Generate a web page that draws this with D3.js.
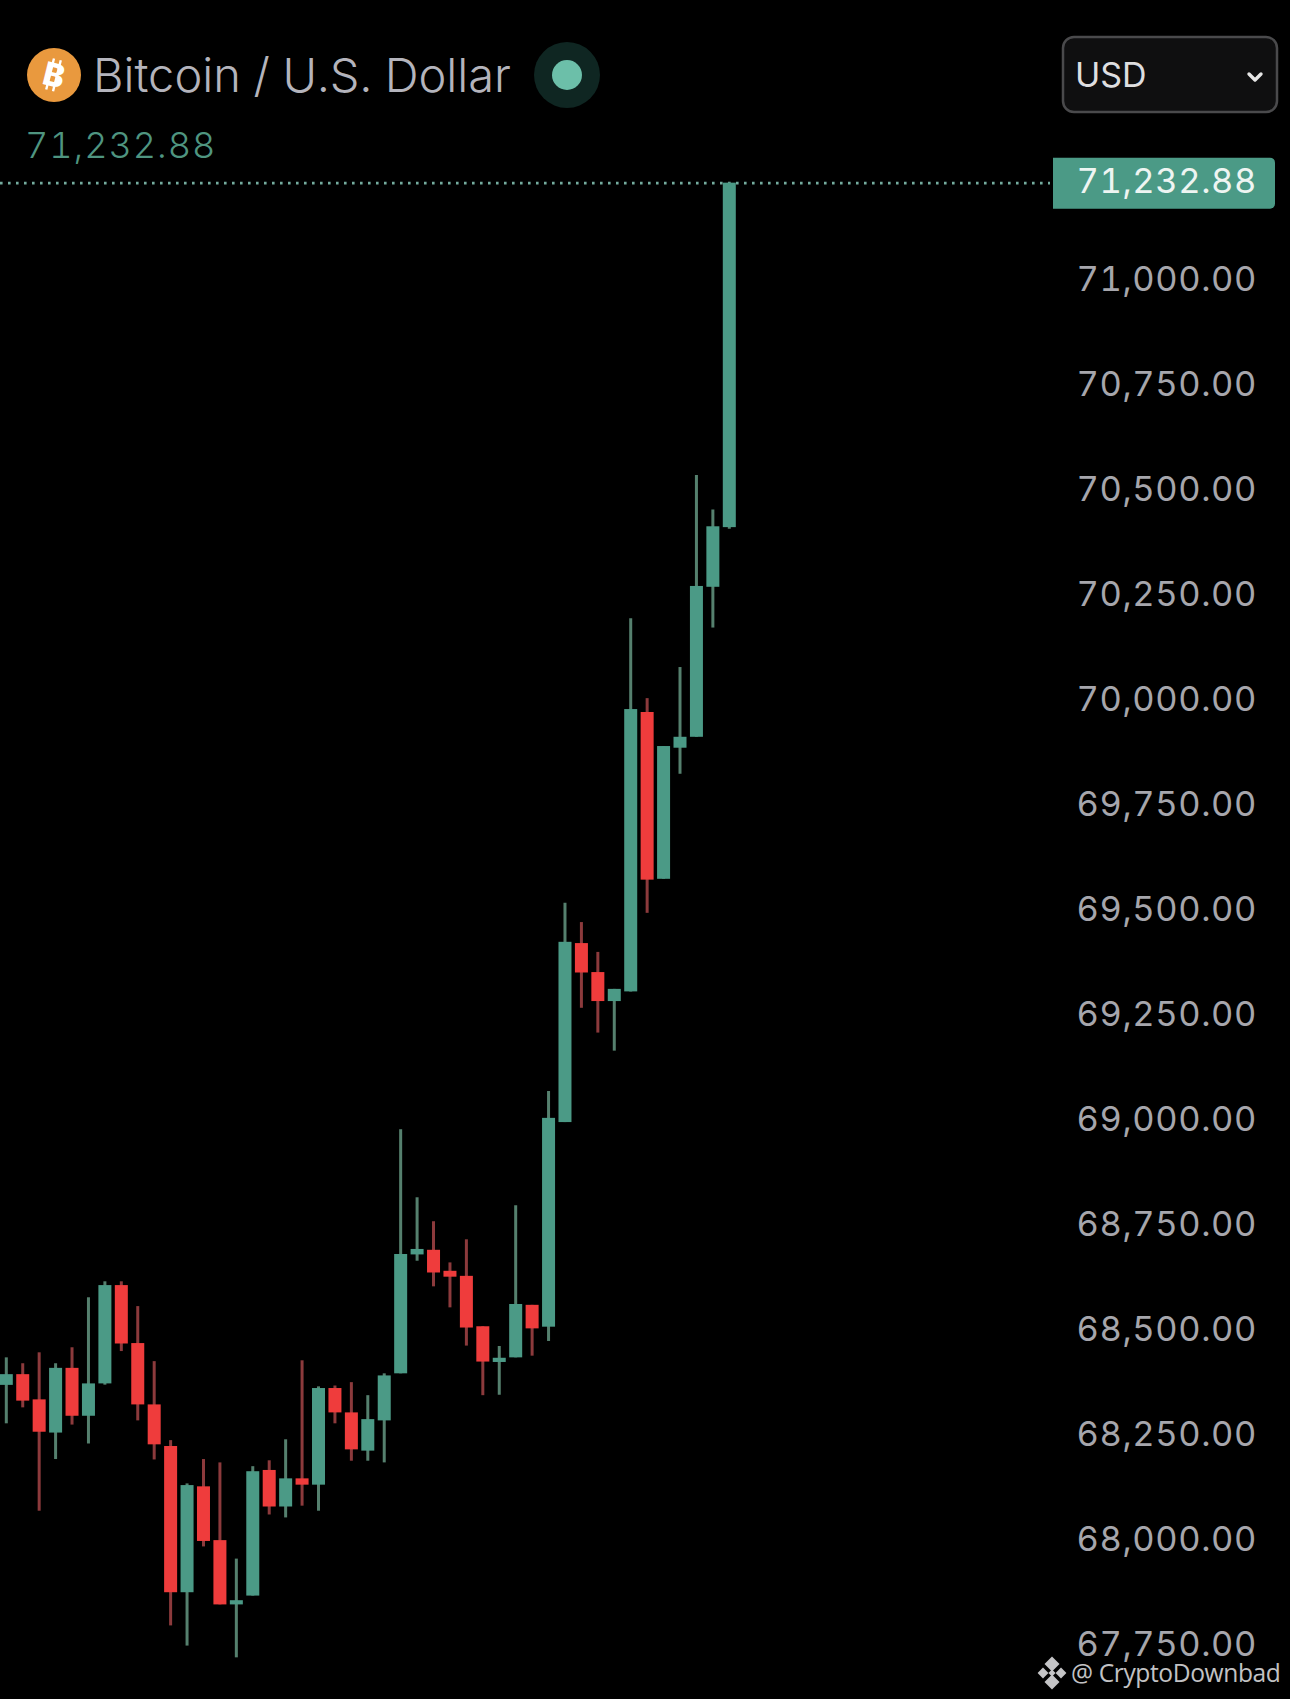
<!DOCTYPE html>
<html>
<head>
<meta charset="utf-8">
<script src="https://cdn.jsdelivr.net/npm/d3@7/dist/d3.min.js"></script>
<style>
html,body{margin:0;padding:0;background:#000;overflow:hidden}
svg{display:block}
text{font-family:Inter,Roboto,sans-serif;font-variant-numeric:tabular-nums}
</style>
</head>
<body>
<svg id="c" width="1290" height="1699"></svg>
<script>
const opens=[68371.5,68397,68337,68258,68412,68298,68375,68609,68471,68325,68226,67878,68130,68002,67849,67870,68169,68082,68149,68134,68364,68306,68215,68287,68399,68682,68693,68643,68631,68511,68426,68437,68562,68510,68997,69423,69354,69285,69308,69973,69576,69888,69914,70271,70413];
const highs=[68437,68423,68449,68423,68461,68580,68618,68618,68559,68428,68240,68137,68195,68187,67958,68178,68192,68242,68430,68368,68370,68378,68347,68399,68980,68818,68761,68663,68718,68511,68464,68799,68562,69071,69519,69473,69402,69314,70196,70006,69892,70080,70537,70455,71232.88];
const lows=[68280,68318,68072,68195,68277,68232,68372,68452,68287,68194,67799,67751,67987,67849,67723,67870,68063,68056,68084,68072,68280,68191,68191,68187,68399,68667,68606,68556,68465,68347,68348,68437,68441,68476,68997,69269,69210,69167,69308,69495,69576,69826,69914,70174,70409];
const closes=[68397,68334,68260,68412,68298,68375,68609,68470,68325,68230,67878,68133,68000,67849,67859,68166,68082,68149,68134,68364,68306,68218,68290,68394,68683,68695,68639,68629,68508,68427,68436,68564,68506,69007,69426,69353,69285,69314,69980,69574,69892,69914,70273,70415,71232.88];
const tickValues=[71000,70750,70500,70250,70000,69750,69500,69250,69000,68750,68500,68250,68000,67750];
const lastPrice=71232.88;
const titleText="Bitcoin / U.S. Dollar";
const currency="USD";
const watermark="@ CryptoDownbad";

const GREEN="#4b9a86",GREEN_WICK="#55806e",RED="#ef3c3c",RED_WICK="#8c3a3c";
const svg=d3.select("#c");
svg.append("rect").attr("width",1290).attr("height",1699).attr("fill","#000");

const y=d3.scaleLinear().domain([67750,71000]).range([1646,280.5]);
const x=d3.scaleLinear().domain([0,opens.length-1]).range([6.3,729.3]);
const fmt=d3.format(",.2f");
const candles=d3.range(opens.length).map(i=>({i,o:opens[i],h:highs[i],l:lows[i],c:closes[i],up:closes[i]>=opens[i]}));

// price line
svg.append("line").attr("x1",0).attr("x2",1050).attr("y1",y(lastPrice)+0.5).attr("y2",y(lastPrice)+0.5)
  .attr("stroke","#74ac9e").attr("stroke-width",2.6).attr("stroke-dasharray","2.6 5.4");

// candles
const g=svg.append("g");
g.selectAll("line.w").data(candles).join("line").attr("class","w")
  .attr("x1",d=>x(d.i)).attr("x2",d=>x(d.i)).attr("y1",d=>y(d.h)).attr("y2",d=>y(d.l))
  .attr("stroke",d=>d.up?GREEN_WICK:RED_WICK).attr("stroke-width",3);
g.selectAll("rect.b").data(candles).join("rect").attr("class","b")
  .attr("x",d=>x(d.i)-6.5).attr("width",13)
  .attr("y",d=>y(Math.max(d.o,d.c)))
  .attr("height",d=>Math.max(3,y(Math.min(d.o,d.c))-y(Math.max(d.o,d.c))))
  .attr("fill",d=>d.up?GREEN:RED);

// axis
const LS="0.6px";
const axis=d3.axisRight(y).tickValues(tickValues).tickFormat(fmt).tickSize(0).tickPadding(0);
const ax=svg.append("g").attr("transform","translate(1257,0)").call(axis);
ax.select(".domain").remove();
ax.selectAll("text").attr("text-anchor","end").attr("x",0).attr("y",-2.5).attr("dy","0.36em")
  .attr("fill","#a6a6ac").attr("font-size",34.5).style("letter-spacing",LS);

// last price label
const ly=y(lastPrice);
svg.append("path").attr("d",`M1053,${ly-25}H1270a5,5 0 0 1 5,5V${ly+21}a5,5 0 0 1 -5,5H1053Z`).attr("fill",GREEN);
svg.append("text").attr("x",1257).attr("y",ly-2.5).attr("dy","0.36em").attr("text-anchor","end")
  .attr("fill","#eef5f2").attr("font-size",34.5).style("letter-spacing",LS).text(fmt(lastPrice));

// header
const logo=svg.append("g").attr("transform","translate(54,75)");
logo.append("circle").attr("r",27).attr("fill","#e9993e");
const b=logo.append("g").attr("transform","rotate(14)");
b.append("text").attr("text-anchor","middle").attr("dy","0.36em").attr("font-size",32).attr("font-weight",800)
  .attr("fill","#fff").text("B");
b.selectAll("line").data([-4,3]).join("line")
  .attr("x1",d=>d).attr("x2",d=>d).attr("y1",-16).attr("y2",16).attr("stroke","#fff").attr("stroke-width",2.4);
svg.append("text").attr("x",93).attr("y",92).attr("fill","#b4b4bc").attr("font-size",47).attr("font-weight",300).text(titleText);
svg.append("circle").attr("cx",567).attr("cy",75).attr("r",33).attr("fill","#0f2622");
svg.append("circle").attr("cx",567).attr("cy",75).attr("r",15).attr("fill","#6cbfa9");
svg.append("text").attr("x",25).attr("y",158).attr("fill","#4f9580").attr("font-size",36).attr("font-weight",300)
  .style("letter-spacing","1px").text(fmt(lastPrice));

// currency select
svg.append("rect").attr("x",1063).attr("y",37).attr("width",214).attr("height",75).attr("rx",11)
  .attr("fill","#0f0f10").attr("stroke","#4a4a4c").attr("stroke-width",2.5);
svg.append("text").attr("x",1075).attr("y",87).attr("fill","#dedee0").attr("font-size",34).attr("font-weight",400).text(currency);
svg.append("path").attr("d","M1249,74L1255,80L1261,74").attr("fill","none").attr("stroke","#e6e6e6").attr("stroke-width",3.4)
  .attr("stroke-linecap","round").attr("stroke-linejoin","round");

// watermark
const wm=svg.append("g").attr("transform","translate(1052,1673)").attr("fill","#c4c4c6");
[[0,-9,4.5],[0,9,4.5],[-9,0,2.4],[9,0,2.4]].forEach(([dx,dy,s])=>{
  wm.append("path").attr("d",`M${dx},${dy-s-3}L${dx+s+3},${dy}L${dx},${dy+s+3}L${dx-s-3},${dy}Z`);
});
wm.append("path").attr("d","M0,-3.6L3.6,0L0,3.6L-3.6,0Z").attr("fill","#c4c4c6");
svg.append("text").attr("x",1071).attr("y",1682).attr("fill","#c2c2c4").attr("font-size",24.6)
  .style("font-family","'Open Sans',sans-serif").style("letter-spacing","-0.4px").text(watermark);
</script>
</body>
</html>
